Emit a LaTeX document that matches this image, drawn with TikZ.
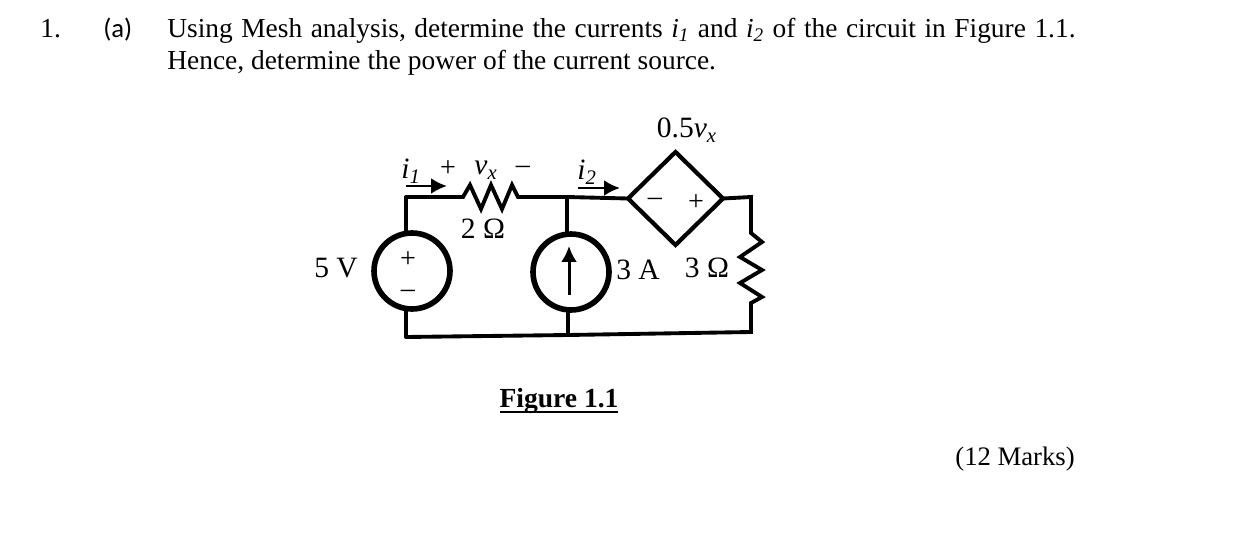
\documentclass[tikz,border=0pt]{standalone}
\usepackage{fontspec}
\setmainfont{Liberation Serif}
\newfontfamily\labelfont{Carlito}
\usetikzlibrary{arrows.meta,shapes.geometric}
\tikzstyle{wire}=[line width=2.2pt, line cap=round, line join=miter]
\tikzstyle{source}=[circle, draw, line width=3.2pt, inner sep=0pt, outer sep=0pt, minimum size=1.52cm]
\tikzstyle{vccs}=[diamond, draw, line width=2.4pt, inner sep=0pt, outer sep=0pt, minimum width=1.9cm, minimum height=1.86cm]
\tikzstyle{para}=[anchor=base west, inner sep=0pt, font=\fontsize{15.6}{18}\selectfont]
\tikzstyle{lbl}=[inner sep=0pt, font=\fontsize{16.8}{19}\selectfont]
\tikzstyle{sign}=[inner sep=0pt, font=\fontsize{16}{18}\selectfont]
\tikzstyle{flow}=[line width=1.7pt, -{Latex[length=9pt,width=9pt]}]
\newcommand{\para}{\node[para]}
\newcommand{\lbl}{\node[lbl]}
\newcommand{\sign}{\node[sign]}
\begin{document}
\begin{tikzpicture}[x=0.02cm, y=-0.02cm]
\useasboundingbox (0,0) rectangle (1239,544);
% question text
\para (num) at (40,38) {1.};
\para (part) at (103,38) {\labelfont\fontsize{15.2}{18}\selectfont (a)};
\para (lineone) at (167,38) {\spaceskip=4.85pt Using Mesh analysis, determine the currents \textit{i\textsubscript{1}} and \textit{i\textsubscript{2}} of the circuit in Figure 1.1.};
\para (linetwo) at (167,70) {Hence, determine the power of the current source.};
% corners of the circuit
\coordinate (tl) at (406,197);
\coordinate (tm) at (567,197);
\coordinate (tr) at (751,197);
\coordinate (bl) at (406,337);
\coordinate (bm) at (568,335);
\coordinate (br) at (751,332);
\coordinate (ra) at (463,197);
\coordinate (rb) at (518,197);
\coordinate (rc) at (751,233);
\coordinate (rd) at (751,303);
% elements
\node[source] (vs) at (412,271) {};
\node[source] (cs) at (571,272) {};
\node[vccs] (dep) at (675.5,198.5) {};
\draw[wire] (tl) -- (ra) -- (470,185) -- (481,209) -- (491,185) -- (502,209) -- (512,185) -- (rb) -- (tm) -- (dep.west);
\draw[wire] (dep.east) -- (tr) -- (rc) -- (762,242) -- (740,257) -- (762,270) -- (740,283) -- (762,297) -- (rd) -- (br) -- (bm) -- (bl);
\draw[wire] (tl) -- (tl |- vs.north);
\draw[wire] (tm) -- (tm |- cs.north);
\draw[wire] (bl |- vs.south) -- (bl);
\draw[wire] (bm |- cs.south) -- (bm);
% arrows
\coordinate (csa) at (569,295);
\coordinate (csb) at (569,246);
\coordinate (ionea) at (406,186);
\coordinate (ioneb) at (447,186);
\coordinate (itwoa) at (578,188);
\coordinate (itwob) at (620,188);
\draw[flow] (csa) -- (csb);
\draw[flow] (ionea) -- (ioneb);
\draw[flow] (itwoa) -- (itwob);
% labels
\lbl (ione) at (411,171) {\textit{i\textsubscript{1}}};
\lbl (itwo) at (587,172) {\textit{i\textsubscript{2}}};
\lbl (vx) at (486,170) {\textit{v\textsubscript{x}}};
\lbl (gain) at (687,130) {0.5\textit{v\textsubscript{x}}};
\lbl (rtwo) at (483,229) {2 Ω};
\lbl (vfive) at (336,268) {5 V};
\lbl (athree) at (638,270) {3 A};
\lbl (rthree) at (707,268) {3 Ω};
\sign (vxp) at (448,169) {+};
\sign (vxm) at (523,170) {–};
\sign (depm) at (655,202) {–};
\sign (depp) at (696,203) {+};
\sign (vsp) at (408,260) {+};
\sign (vsm) at (408,294) {–};
\node[lbl, font=\fontsize{15.7}{18}\selectfont] (cap) at (559,401) {\textbf{Figure 1.1}};
\draw[line width=1.1pt] (500,412) -- (618,412);
\node[para, font=\fontsize{15.2}{18}\selectfont] (marks) at (955,465) {(12 Marks)};
\end{tikzpicture}
\end{document}
